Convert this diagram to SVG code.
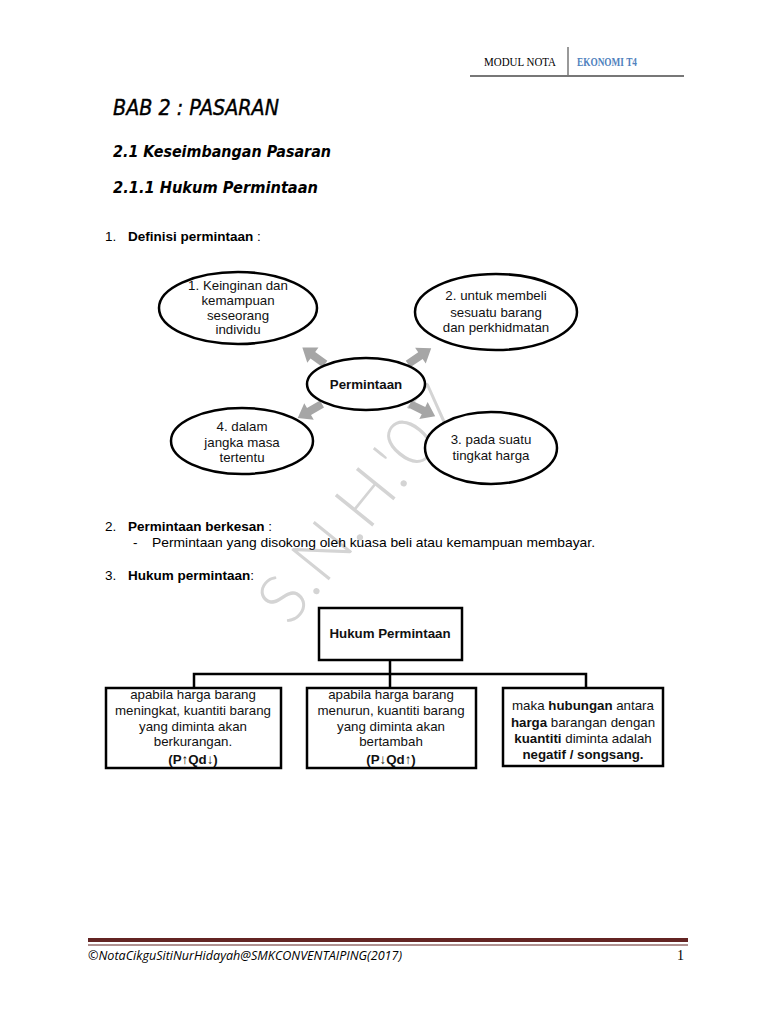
<svg xmlns="http://www.w3.org/2000/svg" width="768" height="1024" viewBox="0 0 768 1024">
<style>
.t{font-family:"Liberation Sans",Arial,sans-serif;font-size:13.5px;fill:#000}
.e{font-family:"Liberation Sans",Arial,sans-serif;font-size:13.3px;fill:#111;text-anchor:middle}
.b{font-weight:bold}
.h{font-family:"DejaVu Sans",sans-serif;font-style:italic;fill:#000}
.node{fill:#fff;stroke:#000;stroke-width:2.5}
.con{stroke:#000;stroke-width:2.5;fill:none}
</style>
<defs>
<path id="barrow" d="M0,-4 L15,-4 L15,-9.5 L28,0 L15,9.5 L15,4 L0,4 Z" fill="#a6a6a6"/>
</defs>
<rect width="768" height="1024" fill="#fff"/>

<!-- watermark -->
<text x="0" y="0" transform="translate(290,628) rotate(-51)" font-family="Lato,'DejaVu Sans',sans-serif" font-weight="300" font-size="68" fill="#d4d4d4" letter-spacing="1">S.N.H.'07</text>

<!-- header -->
<g id="header">
<text x="484" y="66" font-family="'Liberation Serif',serif" font-size="12" textLength="72" lengthAdjust="spacingAndGlyphs">MODUL NOTA</text>
<line x1="568" y1="47" x2="568" y2="75" stroke="#777" stroke-width="1.5"/>
<text x="577" y="66" font-family="'Liberation Serif',serif" font-size="12" font-weight="bold" fill="#4f81bd" textLength="60" lengthAdjust="spacingAndGlyphs">EKONOMI T4</text>
<line x1="470" y1="76" x2="684" y2="76" stroke="#777" stroke-width="2"/>
</g>

<g id="titles">
<text class="h" x="113" y="115" font-size="21" stroke="#000" stroke-width="0.4" textLength="166" lengthAdjust="spacingAndGlyphs">BAB 2 : PASARAN</text>
<text class="h" x="113" y="157" font-size="15" font-weight="bold" textLength="218" lengthAdjust="spacingAndGlyphs">2.1 Keseimbangan Pasaran</text>
<text class="h" x="113" y="193" font-size="15" font-weight="bold" textLength="205" lengthAdjust="spacingAndGlyphs">2.1.1 Hukum Permintaan</text>
</g>

<g id="section1">
<text class="t" x="105" y="241">1.</text>
<text class="t" x="128" y="241"><tspan class="b">Definisi permintaan</tspan> :</text>
</g>

<!-- mind map -->
<g id="connectors">
<use href="#barrow" transform="translate(325,364) rotate(216)"/>
<use href="#barrow" transform="translate(408,364) rotate(-34)"/>
<use href="#barrow" transform="translate(322,404) rotate(150)"/>
<use href="#barrow" transform="translate(410,404) rotate(26)"/>
<path class="con" d="M390,660 V674 M194,688 V674 H586 V688 M390,674 V688"/>
</g>

<g id="n-permintaan">
<ellipse class="node" cx="366" cy="384" rx="59" ry="26"/>
<text class="e b" x="366" y="389">Permintaan</text>
</g>
<g id="n-1">
<ellipse class="node" cx="238" cy="308" rx="79" ry="36"/>
<text class="e" x="238" y="290">1. Keinginan dan</text>
<text class="e" x="238" y="305">kemampuan</text>
<text class="e" x="238" y="320">seseorang</text>
<text class="e" x="238" y="334">individu</text>
</g>
<g id="n-2">
<ellipse class="node" cx="496" cy="312" rx="81" ry="38"/>
<text class="e" x="496" y="300">2. untuk membeli</text>
<text class="e" x="496" y="317">sesuatu barang</text>
<text class="e" x="496" y="332">dan perkhidmatan</text>
</g>
<g id="n-4">
<ellipse class="node" cx="242" cy="441" rx="71" ry="33"/>
<text class="e" x="242" y="431">4. dalam</text>
<text class="e" x="242" y="447">jangka masa</text>
<text class="e" x="242" y="462">tertentu</text>
</g>
<g id="n-3">
<ellipse class="node" cx="491" cy="448" rx="66" ry="36"/>
<text class="e" x="491" y="444">3. pada suatu</text>
<text class="e" x="491" y="460">tingkat harga</text>
</g>

<g id="section2">
<text class="t" x="105" y="531">2.</text>
<text class="t" x="128" y="531"><tspan class="b">Permintaan berkesan</tspan> :</text>
<text class="t" x="133" y="547">-</text>
<text class="t" x="152" y="547" textLength="443" lengthAdjust="spacingAndGlyphs">Permintaan yang disokong oleh kuasa beli atau kemampuan membayar.</text>
<text class="t" x="105" y="580">3.</text>
<text class="t" x="128" y="580"><tspan class="b">Hukum permintaan</tspan>:</text>
</g>

<!-- tree -->
<g id="n-hukum">
<rect class="node" x="319" y="608" width="143" height="52"/>
<text class="e b" x="390" y="638" font-size="13.5">Hukum Permintaan</text>
</g>
<g id="n-a">
<rect class="node" x="106" y="688" width="175" height="80"/>
<text class="e" x="193" y="699" font-size="13.5">apabila harga barang</text>
<text class="e" x="193" y="715" font-size="13.5">meningkat, kuantiti barang</text>
<text class="e" x="193" y="731" font-size="13.5">yang diminta akan</text>
<text class="e" x="193" y="746" font-size="13.5">berkurangan.</text>
<text class="e b" x="193" y="764" font-size="12">(P↑Qd↓)</text>
</g>
<g id="n-b">
<rect class="node" x="307" y="688" width="169" height="80"/>
<text class="e" x="391" y="699" font-size="13.5">apabila harga barang</text>
<text class="e" x="391" y="715" font-size="13.5">menurun, kuantiti barang</text>
<text class="e" x="391" y="731" font-size="13.5">yang diminta akan</text>
<text class="e" x="391" y="746" font-size="13.5">bertambah</text>
<text class="e b" x="391" y="764" font-size="12">(P↓Qd↑)</text>
</g>
<g id="n-c">
<rect class="node" x="503" y="688" width="160" height="78"/>
<text class="e" x="583" y="710" font-size="13.5">maka <tspan class="b">hubungan</tspan> antara</text>
<text class="e" x="583" y="727" font-size="13.5"><tspan class="b">harga</tspan> barangan dengan</text>
<text class="e" x="583" y="743" font-size="13.5"><tspan class="b">kuantiti</tspan> diminta adalah</text>
<text class="e b" x="583" y="759" font-size="13.5">negatif / songsang.</text>
</g>

<!-- footer -->
<g id="footer">
<rect x="88" y="938" width="600" height="4" fill="#632423"/>
<line x1="88" y1="945" x2="688" y2="945" stroke="#632423" stroke-width="1"/>
<text x="88" y="960" font-family="'Open Sans','Liberation Sans',sans-serif" font-style="italic" font-size="12.5" textLength="314" lengthAdjust="spacingAndGlyphs">©NotaCikguSitiNurHidayah@SMKCONVENTAIPING(2017)</text>
<text x="677" y="960" font-family="'Liberation Serif',serif" font-size="14">1</text>
</g>
</svg>
